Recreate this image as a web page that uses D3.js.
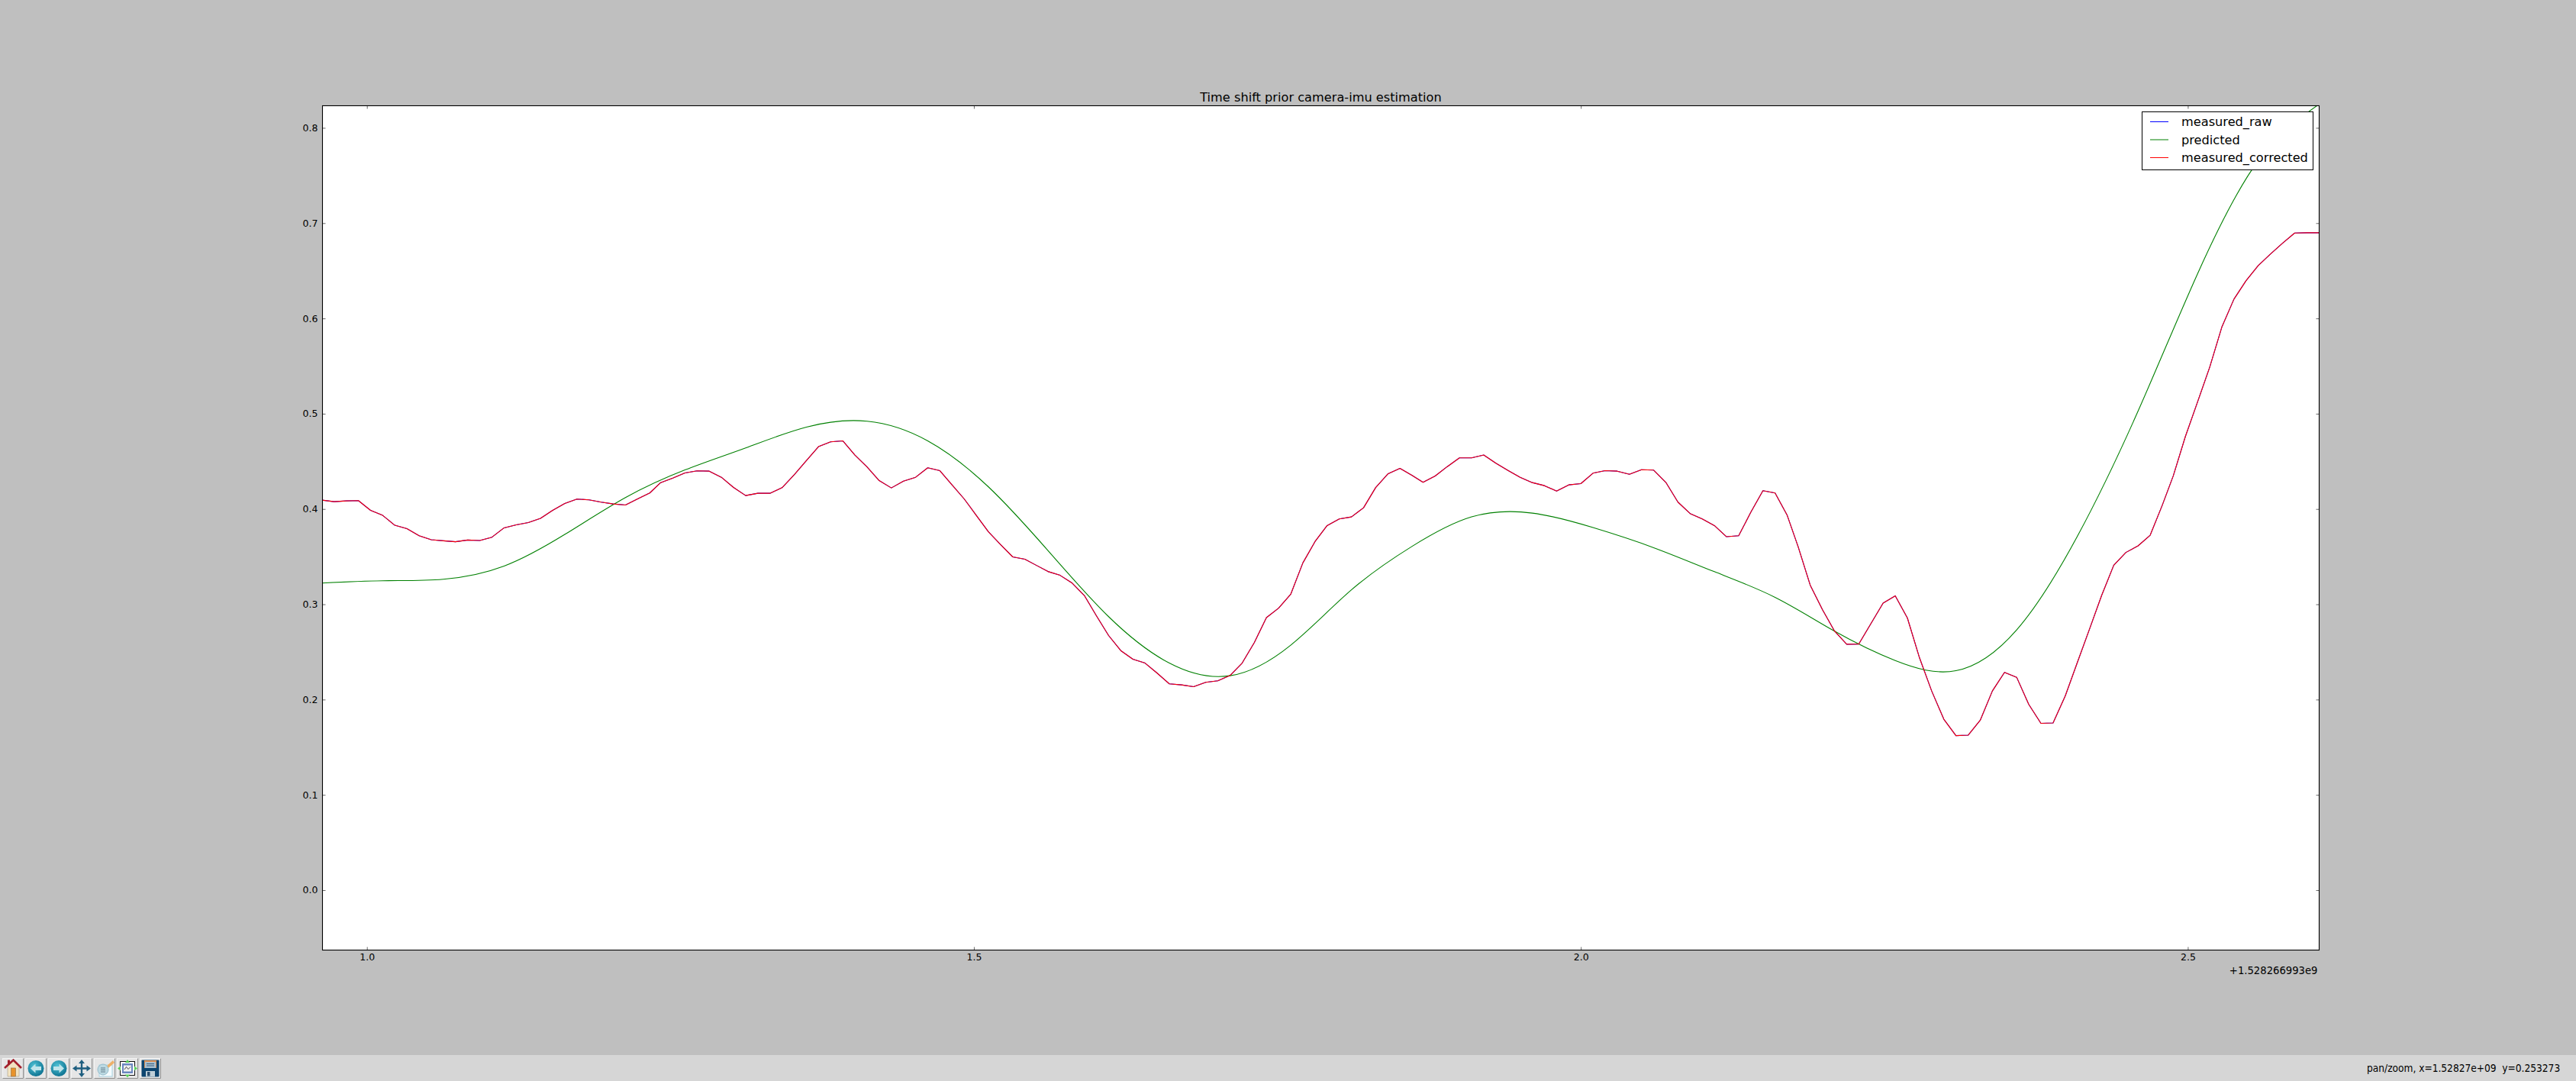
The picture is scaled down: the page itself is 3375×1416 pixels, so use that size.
<!DOCTYPE html>
<html><head><meta charset="utf-8">
<script src="https://cdn.jsdelivr.net/npm/d3@7/dist/d3.min.js"></script>
<style>html,body{margin:0;padding:0;background:#bfbfbf;overflow:hidden}svg{display:block}text{font-family:"DejaVu Sans";fill:#000}</style>
</head><body><svg id="c" width="3375" height="1416"></svg>
<script>
const chartTitle = "Time shift prior camera-imu estimation";
const offsetLabel = "+1.528266993e9";
const statusLabel = "pan/zoom, x=1.52827e+09  y=0.253273";
const xTicks = [1.0, 1.5, 2.0, 2.5];
const yTicks = [0.0, 0.1, 0.2, 0.3, 0.4, 0.5, 0.6, 0.7, 0.8];
const xExtent = [0.9634, 2.6082];
const yExtent = [-0.0629, 0.8232];
const legendLabels = ["measured_raw", "predicted", "measured_corrected"];
const sampleTimes = [
0.963,0.973,0.983,0.993,1.003,1.013,1.023,1.033,1.043,1.053,1.063,1.073,1.083,1.093,1.103,1.113,1.123,1.133,1.143,1.153,
1.163,1.173,1.183,1.193,1.203,1.213,1.223,1.233,1.242,1.252,1.262,1.272,1.282,1.292,1.302,1.312,1.322,1.332,1.342,1.352,
1.362,1.372,1.382,1.392,1.402,1.412,1.422,1.432,1.442,1.452,1.462,1.472,1.482,1.492,1.502,1.512,1.522,1.532,1.542,1.551,
1.561,1.571,1.581,1.591,1.601,1.611,1.621,1.631,1.641,1.651,1.661,1.671,1.681,1.691,1.701,1.711,1.721,1.731,1.741,1.751,
1.761,1.771,1.781,1.791,1.801,1.811,1.821,1.831,1.841,1.851,1.861,1.870,1.880,1.890,1.900,1.910,1.920,1.930,1.940,1.950,
1.960,1.970,1.980,1.990,2.000,2.010,2.020,2.030,2.040,2.050,2.060,2.070,2.080,2.090,2.100,2.110,2.120,2.130,2.140,2.150,
2.160,2.170,2.179,2.189,2.199,2.209,2.219,2.229,2.239,2.249,2.259,2.269,2.279,2.289,2.299,2.309,2.319,2.329,2.339,2.349,
2.359,2.369,2.379,2.389,2.399,2.409,2.419,2.429,2.439,2.449,2.459,2.469,2.479,2.488,2.498,2.508,2.518,2.528,2.538,2.548,
2.558,2.568,2.578,2.588,2.598,2.608];
const measuredCorrected = [
.4093,.4077,.4085,.4088,.3986,.3933,.3829,.3794,.3720,.3677,.3666,.3656,.3674,.3669,.3704,.3802,.3834,.3858,.3901,.3986,
.4058,.4104,.4096,.4072,.4053,.4042,.4106,.4168,.4277,.4325,.4378,.4400,.4397,.4333,.4226,.4141,.4165,.4165,.4224,.4360,
.4507,.4654,.4705,.4715,.4566,.4441,.4298,.4221,.4293,.4333,.4432,.4402,.4253,.4106,.3933,.3760,.3626,.3497,.3473,.3412,
.3344,.3304,.3222,.3092,.2878,.2672,.2514,.2423,.2383,.2277,.2165,.2154,.2135,.2181,.2197,.2253,.2383,.2598,.2860,.2959,
.3105,.3434,.3658,.3826,.3896,.3917,.4013,.4225,.4368,.4426,.4352,.4280,.4346,.4445,.4537,.4537,.4566,.4480,.4405,.4333,
.4277,.4245,.4189,.4253,.4266,.4376,.4402,.4397,.4365,.4413,.4408,.4280,.4072,.3952,.3896,.3826,.3709,.3719,.3965,.4192,
.4168,.3933,.3604,.3199,.2944,.2718,.2581,.2583,.2798,.3012,.3089,.2856,.2437,.2090,.1794,.1621,.1626,.1783,.2090,.2285,
.2234,.1949,.1751,.1754,.2037,.2389,.2739,.3092,.3410,.3544,.3613,.3725,.4041,.4347,.4761,.5122,.5487,.5908,.6202,.6396,
.6554,.6674,.6789,.6896,.6899,.6899];
const measuredRaw = measuredCorrected.slice();
const predictedTimes = [0.963,1.013,1.063,1.113,1.163,1.213,1.262,1.312,1.362,1.412,1.462,1.512,1.561,1.611,1.661,1.711,1.761,1.811,1.861,1.910,1.960,2.010,2.060,2.110,2.160,2.209,2.259,2.309,2.359,2.409,2.459,2.508,2.558,2.608];
const predicted = [.3223,.3247,.3263,.3401,.3733,.4120,.4410,.4641,.4859,.4921,.4715,.4232,.3564,.2870,.2383,.2250,.2571,.3151,.3608,.3917,.3957,.3805,.3594,.3342,.3073,.2718,.2410,.2303,.2731,.3713,.5027,.6468,.7656,.8247];

const svg = d3.select("#c");
const W = 3375, H = 1416;
svg.append("rect").attr("width",W).attr("height",H).attr("fill","#bfbfbf");
svg.append("rect").attr("y",1382).attr("width",W).attr("height",34).attr("fill","#d6d6d6");

const L=422.5,R=3038.5,T=138.5,B=1244.5;
const x=d3.scaleLinear().domain(xExtent).range([L,R]);
const y=d3.scaleLinear().domain(yExtent).range([B,T]);
svg.append("rect").attr("x",L).attr("y",T).attr("width",R-L).attr("height",B-T).attr("fill","#fff");
svg.append("defs").append("clipPath").attr("id","plot").append("rect").attr("x",L).attr("y",T).attr("width",R-L).attr("height",B-T);

const line=d3.line().x(d=>x(d[0])).y(d=>y(d[1]));
const smooth=d3.line().x(d=>x(d[0])).y(d=>y(d[1])).curve(d3.curveNatural);
const g=svg.append("g").attr("clip-path","url(#plot)").attr("fill","none").attr("stroke-linejoin","round");
g.append("path").attr("d",line(d3.zip(sampleTimes,measuredRaw))).attr("stroke","#0000ff").attr("stroke-width",1.1);
g.append("path").attr("d",smooth(d3.zip(predictedTimes,predicted))).attr("stroke","#008000").attr("stroke-width",1.1);
g.append("path").attr("d",line(d3.zip(sampleTimes,measuredCorrected))).attr("stroke","#ff0000").attr("stroke-width",1.1);

function styleAxis(sel){
  sel.select(".domain").remove();
  sel.selectAll(".tick line").attr("stroke","#000").attr("stroke-width",0.6);
  sel.selectAll(".tick text").attr("font-family","DejaVu Sans").attr("font-size",12.5).attr("fill","#000");
}
const fmt=d3.format(".1f");
svg.append("g").attr("transform",`translate(0,${B})`).call(d3.axisBottom(x).tickValues(xTicks).tickFormat(fmt).tickSizeInner(-4).tickPadding(7)).call(styleAxis).call(s=>s.selectAll(".tick text").attr("y",4.6));
svg.append("g").attr("transform",`translate(0,${T})`).call(d3.axisTop(x).tickValues(xTicks).tickFormat("").tickSizeInner(-4)).call(styleAxis);
svg.append("g").attr("transform",`translate(${L},0)`).call(d3.axisLeft(y).tickValues(yTicks).tickFormat(fmt).tickSizeInner(-4).tickPadding(6)).call(styleAxis).call(s=>s.selectAll(".tick text").attr("x",-6));
svg.append("g").attr("transform",`translate(${R},0)`).call(d3.axisRight(y).tickValues(yTicks).tickFormat("").tickSizeInner(-4)).call(styleAxis);
svg.append("rect").attr("x",L).attr("y",T).attr("width",R-L).attr("height",B-T).attr("fill","none").attr("stroke","#000").attr("stroke-width",1.1);

svg.append("text").attr("x",(L+R)/2).attr("y",133).attr("text-anchor","middle").attr("font-size",16.2).text(chartTitle);
svg.append("text").attr("x",3036.5).attr("y",1275.5).attr("text-anchor","end").attr("font-size",13.2).text(offsetLabel);

// legend
const leg=svg.append("g");
leg.append("rect").attr("x",2806.5).attr("y",146.5).attr("width",224).attr("height",76).attr("fill","#fff").attr("stroke","#000").attr("stroke-width",1);
const legColors=["#0000ff","#008000","#ff0000"], legY=[159.5,183,206.5];
legendLabels.forEach((t,i)=>{
  leg.append("line").attr("x1",2817).attr("x2",2841).attr("y1",legY[i]).attr("y2",legY[i]).attr("stroke",legColors[i]).attr("stroke-width",1);
  leg.append("text").attr("x",2858).attr("y",legY[i]+5.5).attr("font-size",16.2).text(t);
});

// status
svg.append("text").attr("x",3101).attr("y",1403.5).style("font-family","'DejaVu Sans Condensed'").style("white-space","pre").attr("font-size",13.6).attr("fill","#111").text(statusLabel);

// toolbar
const tb=svg.append("g");
const bx=[3,33,63,93,123,153,183];
const grad=svg.select("defs").append("radialGradient").attr("id","ball").attr("cx","0.4").attr("cy","0.35").attr("r","0.7");
grad.append("stop").attr("offset","0").attr("stop-color","#4fc3d6");
grad.append("stop").attr("offset","1").attr("stop-color","#0b6f8e");
bx.forEach(v=>{
  const b=tb.append("g").attr("transform",`translate(${v},1386)`);
  b.append("rect").attr("x",0.5).attr("y",0.5).attr("width",27).attr("height",26).attr("fill","#e6e6e6").attr("stroke","#f4f4f4");
  b.append("path").attr("d","M27.5 0.5V26.5H0.5").attr("fill","none").attr("stroke","#8f8f8f");
});
const ic=i=>tb.append("g").attr("transform",`translate(${bx[i]},1386)`);
// home
let h=ic(0);
h.append("path").attr("d","M7 11V24H22V11L14.5 4Z").attr("fill","#f2e3c0").attr("stroke","#a89a80").attr("stroke-width",.6);
h.append("rect").attr("x",11.5).attr("y",13).attr("width",6).attr("height",11).attr("fill","#e8932a").attr("stroke","#8a6a40").attr("stroke-width",.6);
h.append("path").attr("d","M3 13L14.5 2.5L25 13").attr("fill","none").attr("stroke","#a3202c").attr("stroke-width",2.6);
h.append("rect").attr("x",7).attr("y",2.5).attr("width",3).attr("height",6).attr("fill","#a3202c");
// arrows
[[1,"M7 13.5L13.5 7.5V11H21V16H13.5V19.5Z"],[2,"M21 13.5L14.5 7.5V11H7V16H14.5V19.5Z"]].forEach(([i,d])=>{
  const a=ic(i);
  a.append("circle").attr("cx",14).attr("cy",13.5).attr("r",10.5).attr("fill","url(#ball)");
  a.append("path").attr("d",d).attr("fill","#bfe4ea");
});
// move
let m=ic(3);
m.append("path").attr("d","M14 2L18 7H15.2V12.3H20.5V9.5L26 13.5L20.5 17.5V14.7H15.2V20H18L14 25L10 20H12.8V14.7H7.5V17.5L2 13.5L7.5 9.5V12.3H12.8V7H10Z").attr("fill","#1f5f80");
// zoom rect
let z=ic(4);
z.append("rect").attr("x",7).attr("y",9).attr("width",17).attr("height",15).attr("fill","#f4fbfd").attr("stroke","#a9d4e4");
z.append("path").attr("d","M17 10L25 3L27 6L19 13Z").attr("fill","#eeb068");
z.append("circle").attr("cx",12).attr("cy",15).attr("r",7).attr("fill","#bcd9e2").attr("stroke","#93bccb");
z.append("path").attr("d","M9 13H15M9 15.5H15M9 18H15").attr("stroke","#55707f").attr("stroke-width",.9);
// subplots
let s=ic(5);
s.append("rect").attr("x",4.5).attr("y",4.5).attr("width",19).attr("height",18).attr("fill","#fff").attr("stroke","#111").attr("stroke-width",1);
s.append("rect").attr("x",7).attr("y",7).attr("width",14).attr("height",13).attr("fill","#6a86bf");
s.append("rect").attr("x",9).attr("y",9.5).attr("width",10).attr("height",8).attr("fill","#f1f1f1");
s.append("path").attr("d","M10 15L12.5 11.5L15 14.5L18 11.5").attr("fill","none").attr("stroke","#222").attr("stroke-width",.8);
s.append("path").attr("d","M14 2L17 6H11ZM14 25.5L17 21.5H11ZM1 13.5L5 10.5V16.5ZM27 13.5L23 10.5V16.5Z").attr("fill","#59d05a");
// save
let f=ic(6);
f.append("rect").attr("x",2.5).attr("y",2.5).attr("width",23).attr("height",22).attr("rx",1).attr("fill","#0d456f");
f.append("rect").attr("x",6).attr("y",3).attr("width",16).attr("height",10).attr("fill","#d98f55");
f.append("rect").attr("x",7).attr("y",5).attr("width",14).attr("height",8).attr("fill","#a9c0d0");
f.append("path").attr("d","M9 7.5H19M9 10H19").attr("stroke","#3a5f7f");
f.append("rect").attr("x",8).attr("y",17).attr("width",12).attr("height",7.5).attr("fill","#bfcfd8");
f.append("rect").attr("x",10).attr("y",18).attr("width",3.5).attr("height",5.5).attr("fill","#2b4f6f");
</script></body></html>
